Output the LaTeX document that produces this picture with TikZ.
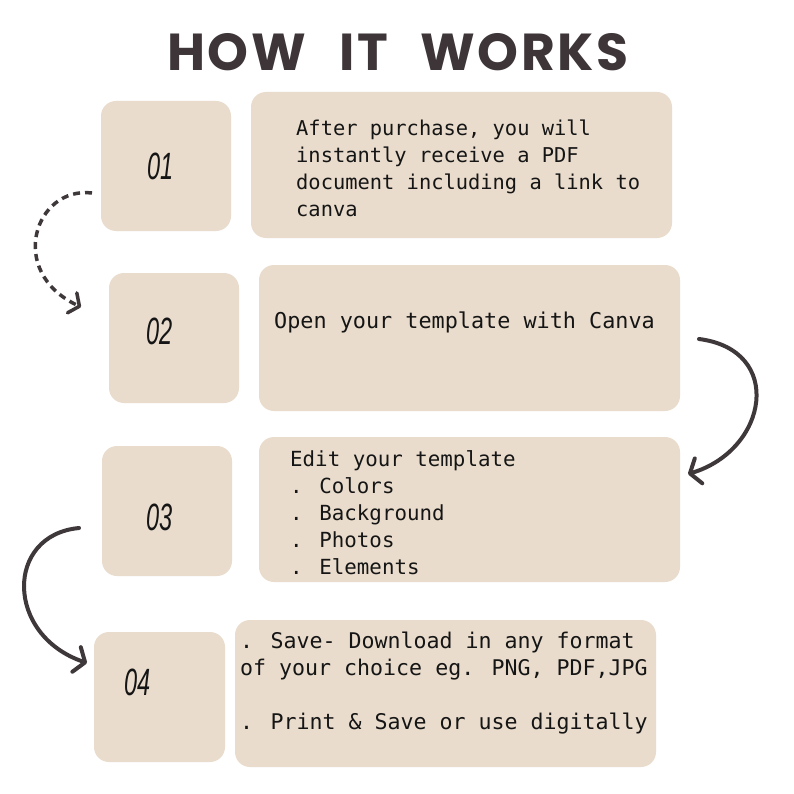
\documentclass[tikz,border=0pt]{standalone}
\usepackage{fontspec}
\usetikzlibrary{arrows.meta}
\setmainfont{DejaVu Sans}
\newfontfamily\titlefont[LetterSpace=5]{Poppins}
\newfontfamily\bodyfont{DejaVu Sans Mono}
\newfontfamily\numfont{Liberation Sans}
\definecolor{boxfill}{HTML}{E9DCCC}
\definecolor{titlecol}{HTML}{3D3537}
\definecolor{arrowcol}{HTML}{3F383A}
\definecolor{bodycol}{HTML}{151515}
\begin{document}
\begin{tikzpicture}[x=1pt,y=-1pt,
  card/.style={fill=boxfill, rounded corners=15pt, inner sep=0pt},
  numlabel/.style={font=\numfont\itshape\fontsize{38}{38}\selectfont, xscale=0.62, text=bodycol, inner sep=0pt},
  bodytext/.style={anchor=base west, align=left, inner sep=0pt, text=bodycol},
  flow/.style={draw=arrowcol, line width=4pt, line cap=round, -{Straight Barb[length=9pt,width=26pt,line width=4pt,round]}},
  dashflow/.style={draw=arrowcol, line width=3.5pt, dash pattern=on 7pt off 5pt, -{Straight Barb[length=8pt,width=22pt,line width=3.5pt,round]}}
]
\useasboundingbox (0,0) rectangle (794,794);
\fill[white] (0,0) rectangle (794,794);

\node[font=\titlefont\bfseries\fontsize{52}{52}\selectfont, text=titlecol, inner sep=0pt] (title) at (398,52) {HOW\hspace{34pt}IT\hspace{32pt}WORKS};

% number cards
\node[card, minimum width=130pt, minimum height=130pt] (n1) at (166,166) {};
\node[card, minimum width=130pt, minimum height=130pt] (n2) at (174,338) {};
\node[card, minimum width=130pt, minimum height=130pt] (n3) at (167,511) {};
\node[card, minimum width=131pt, minimum height=130pt] (n4) at (159.5,697) {};

% text cards
\node[card, minimum width=421pt, minimum height=146pt] (t1) at (461.5,165) {};
\node[card, minimum width=421pt, minimum height=146pt] (t2) at (469.5,338) {};
\node[card, minimum width=421pt, minimum height=145pt] (t3) at (469.5,509.5) {};
\node[card, minimum width=421pt, minimum height=147pt] (t4) at (445.5,693.5) {};

% numbers
\node[numlabel] (l1) at (161,166) {01};
\node[numlabel] (l2) at (160,331) {02};
\node[numlabel] (l3) at (160,517) {03};
\node[numlabel] (l4) at (138,682) {04};

% body texts (anchor = baseline of the last line)
\node[bodytext, font=\bodyfont\fontsize{20.4}{27}\selectfont] (b1) at (296,217)
  {After purchase, you will\\instantly receive a PDF\\document including a link to\\canva};
\node[bodytext, font=\bodyfont\fontsize{21.8}{27}\selectfont] (b2) at (274,328)
  {Open your template with Canva};
\node[bodytext, font=\bodyfont\fontsize{20.8}{27}\selectfont] (b3) at (290,574)
  {Edit your template\\. Colors\\. Background\\. Photos\\. Elements};
\node[bodytext, font=\bodyfont\fontsize{21.6}{27}\selectfont] (b4) at (240,729)
  {. Save- Download in any format\\of your choice eg. PNG, PDF,JPG\\[27pt]. Print \& Save or use digitally};

% connectors
\coordinate (d1) at (92,193);
\coordinate (d2) at (81,307);
\draw[dashflow] (d1) .. controls (35,186) and (6,272) .. (d2);

\coordinate (r1) at (699,339);
\coordinate (r2) at (688,474);
\draw[flow] (r1) .. controls (785,350) and (768,450) .. (r2);

\coordinate (s1) at (79,528);
\coordinate (s2) at (87,663);
\draw[flow] (s1) .. controls (5,535) and (5,635) .. (s2);
\end{tikzpicture}
\end{document}
